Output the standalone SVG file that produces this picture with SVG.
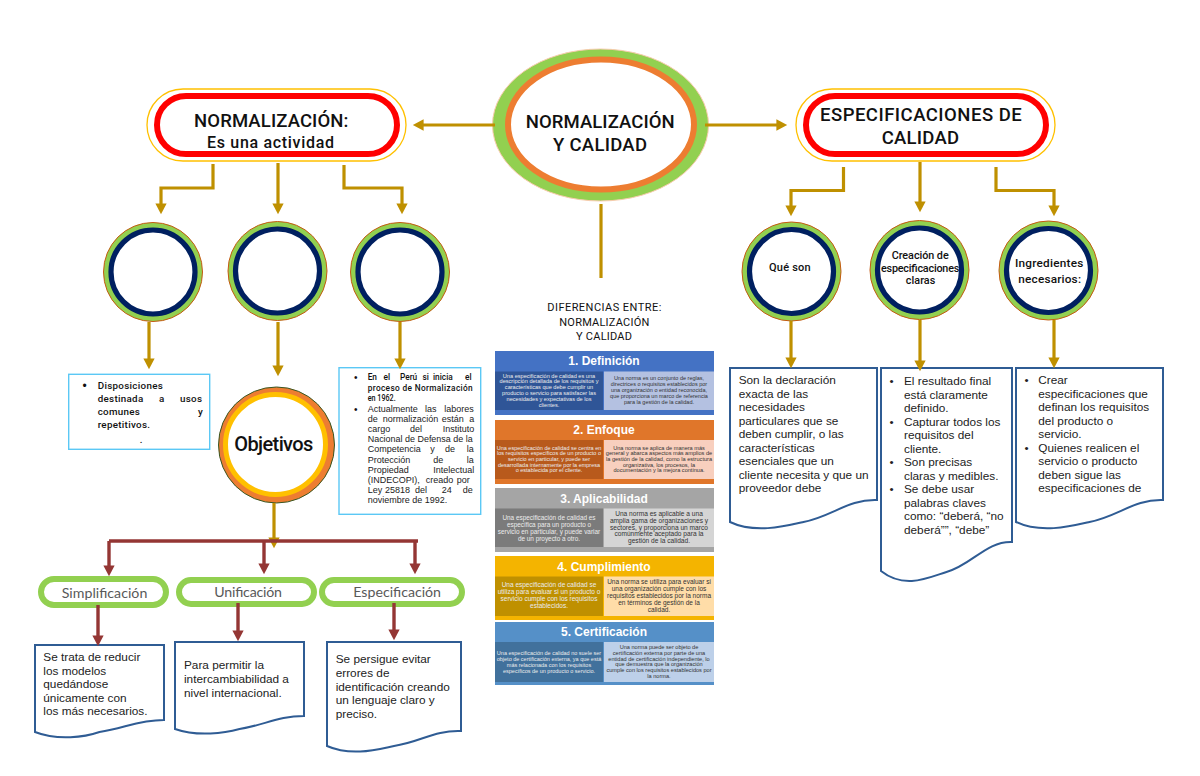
<svg xmlns="http://www.w3.org/2000/svg" width="1200" height="776" viewBox="0 0 1200 776">
<style>
.din{font-family:"Roboto","Liberation Sans",sans-serif;fill:#111}
.sans{font-family:"Liberation Sans",Arial,sans-serif;font-size:11.8px;fill:#222}
.lat{font-family:"Lato","Liberation Sans",sans-serif;font-size:14.2px;font-weight:400;fill:#595959}
.hd{font-family:"Liberation Sans",Arial,sans-serif;font-size:12px;font-weight:700;fill:#fff;text-anchor:middle}
.cl,.cr{font-family:"Liberation Sans",Arial,sans-serif;text-anchor:middle}
.cl{fill:#ececec}.cr{fill:#333}
.bul{font-family:"Liberation Sans",Arial,sans-serif;fill:#111}
.doc{fill:#fff;stroke:#2F5C94;stroke-width:2}
.box{fill:#fff;stroke:#5BC8F5;stroke-width:1.4}
.gold{fill:none;stroke:#BF9000;stroke-width:3.2;marker-end:url(#ag)}
.goldn{fill:none;stroke:#BF9000;stroke-width:3.2}
.red{fill:none;stroke:#943634;stroke-width:3.4;marker-end:url(#ar)}
.redn{fill:none;stroke:#943634;stroke-width:3.4}
.pill{fill:#fff;stroke:#92D050;stroke-width:6}
.py{fill:#fff;stroke:#FFC000;stroke-width:1.3}
.pr{fill:#fff;stroke:#FF0000;stroke-width:6}
.c1{fill:#92D050;stroke:#C55A11;stroke-width:1}
.c2{fill:#fff;stroke:#002060;stroke-width:5.2}
</style>
<defs>
<marker id="ag" markerUnits="userSpaceOnUse" markerWidth="12" markerHeight="12" viewBox="0 0 10 10" refX="3" refY="5" orient="auto"><path d="M0 0.3L9 5L0 9.7Z" fill="#BF9000"/></marker>
<marker id="ar" markerUnits="userSpaceOnUse" markerWidth="12" markerHeight="12" viewBox="0 0 10 10" refX="3" refY="5" orient="auto"><path d="M0 0.3L9 5L0 9.7Z" fill="#943634"/></marker>
</defs>
<rect width="1200" height="776" fill="#fff"/>

<g id="node-center">
<ellipse cx="600.5" cy="125" rx="108" ry="76" fill="#92D050" stroke="#F8CBAD" stroke-width="1"/>
<ellipse cx="601" cy="124.5" rx="93" ry="65" fill="#fff" stroke="#ED7D31" stroke-width="6"/>
<text class="din" x="525.7" y="127.7" font-size="18.500" font-weight="500" textLength="149">NORMALIZACIÓN</text>
<text class="din" x="553" y="151" font-size="18.500" font-weight="500" textLength="94">Y CALIDAD</text>
</g>
<g id="node-normalizacion">
<rect class="py" x="147" y="89" width="259" height="72" rx="36"/>
<rect class="pr" x="157" y="96" width="240" height="58" rx="29"/>
<text class="din" x="194" y="126.7" font-size="18.500" font-weight="500" textLength="154.500">NORMALIZACIÓN:</text>
<text class="din" x="207" y="147.7" font-size="16" font-weight="500" textLength="127">Es una actividad</text>
</g>
<g id="node-especificaciones">
<rect class="py" x="796" y="89" width="259" height="72" rx="36"/>
<rect class="pr" x="806" y="96" width="240" height="58" rx="29"/>
<text class="din" x="820" y="120.7" font-size="18.500" font-weight="500" textLength="201.700">ESPECIFICACIONES DE</text>
<text class="din" x="881.700" y="144.3" font-size="18.500" font-weight="500" textLength="77.300">CALIDAD</text>
</g>

<g id="node-circle-1"><circle class="c1" cx="153" cy="272" r="49.500"/><circle class="c2" cx="153" cy="272" r="42"/></g>
<g id="node-circle-2"><circle class="c1" cx="277.5" cy="271" r="49.500"/><circle class="c2" cx="277.5" cy="271" r="42"/></g>
<g id="node-circle-3"><circle class="c1" cx="400" cy="272" r="49.500"/><circle class="c2" cx="400" cy="272" r="42"/></g>
<g id="node-que-son"><circle class="c1" cx="791.5" cy="271.5" r="49.500"/><circle class="c2" cx="791.5" cy="271.5" r="42"/>
<text class="din" x="769" y="271" font-size="11" font-weight="500" textLength="41.700">Qué son</text></g>
<g id="node-creacion"><circle class="c1" cx="919.5" cy="270" r="49.500"/><circle class="c2" cx="919.5" cy="270" r="42"/>
<text class="din" x="891.700" y="258.7" font-size="10.800" font-weight="500" textLength="57">Creación de</text>
<text class="din" x="881" y="271.7" font-size="10.800" font-weight="500" textLength="78.300">especificaciones</text>
<text class="din" x="905.700" y="284.3" font-size="10.800" font-weight="500" textLength="29.600">claras</text></g>
<g id="node-ingredientes"><circle class="c1" cx="1048.5" cy="270.5" r="49.500"/><circle class="c2" cx="1048.5" cy="270.5" r="42"/>
<text class="din" x="1015" y="267" font-size="11.800" font-weight="500" textLength="68.300">Ingredientes</text>
<text class="din" x="1018.300" y="282.7" font-size="11.800" font-weight="500" textLength="62.700">necesarios:</text></g>

<g id="node-disposiciones">
<rect class="box" x="68.7" y="374.3" width="141" height="75"/>
<text class="bul" x="82.500" y="390" font-size="12">•</text>
<g class="din" font-size="9.800" font-weight="500" letter-spacing="0.3">
<text x="97.700" y="389">Disposiciones</text>
<text y="402"><tspan x="97.700">destinada</tspan><tspan x="159">a</tspan><tspan x="180">usos</tspan></text>
<text y="415"><tspan x="97.700">comunes</tspan><tspan x="198">y</tspan></text>
<text x="97.700" y="428">repetitivos.</text>
<text x="139.700" y="443">.</text>
</g></g>

<g id="node-peru">
<rect class="box" x="339" y="367.7" width="141.700" height="146.600"/>
<text class="bul" x="354" y="381" font-size="10">•</text>
<text class="bul" x="354" y="412.500" font-size="10">•</text>
<g class="din" font-size="8.300" font-weight="500">
<text y="380"><tspan x="367.700">En</tspan><tspan x="383.500">el</tspan><tspan x="400">Perú</tspan><tspan x="422.500">si</tspan><tspan x="433">inicia</tspan><tspan x="465">el</tspan></text>
<text x="367.700" y="390.500" textLength="105">proceso de Normalización</text>
<text x="367.700" y="401" textLength="28" lengthAdjust="spacingAndGlyphs">en 1962.</text>
</g>
<g class="sans" style="font-size:9px">
<text y="411.500"><tspan x="367.700">Actualmente</tspan><tspan x="425">las</tspan><tspan x="444.300">labores</tspan></text>
<text y="421.700"><tspan x="367.700">de</tspan><tspan x="382.700">normalización</tspan><tspan x="441.700">están</tspan><tspan x="469.300">a</tspan></text>
<text y="431.900"><tspan x="367.700">cargo</tspan><tspan x="410">del</tspan><tspan x="442.700">Instituto</tspan></text>
<text x="367.700" y="442.100" textLength="105" lengthAdjust="spacingAndGlyphs">Nacional de Defensa de la</text>
<text y="452.300"><tspan x="367.700">Competencia</tspan><tspan x="430.300">y</tspan><tspan x="445">de</tspan><tspan x="466.700">la</tspan></text>
<text y="462.500"><tspan x="367.700">Protección</tspan><tspan x="433.300">de</tspan><tspan x="466.700">la</tspan></text>
<text y="472.700"><tspan x="367.700">Propiedad</tspan><tspan x="433.300">Intelectual</tspan></text>
<text y="482.900"><tspan x="367.700">(INDECOPI),</tspan><tspan x="425.700">creado</tspan><tspan x="456.700">por</tspan></text>
<text y="493.100"><tspan x="367.700">Ley</tspan><tspan x="385">25818</tspan><tspan x="415">del</tspan><tspan x="441.700">24</tspan><tspan x="462.700">de</tspan></text>
<text x="367.700" y="503.300">noviembre de 1992.</text>
</g></g>

<g id="node-objetivos">
<circle cx="276.5" cy="445" r="58" fill="#ED7D31" stroke="#385723" stroke-width="1"/>
<circle cx="275.5" cy="444.5" r="50" fill="#fff" stroke="#FFC000" stroke-width="5"/>
<text class="din" x="234.300" y="450.700" font-size="20" font-weight="500" textLength="79">Objetivos</text>
</g>

<g id="node-simplificacion"><rect class="pill" x="41" y="579" width="125" height="26" rx="13"/><text class="lat" x="61.700" y="597.700" textLength="85.600">Simplificación</text></g>
<g id="node-unificacion"><rect class="pill" x="179" y="580" width="135" height="24" rx="12"/><text class="lat" x="214.300" y="596.700" textLength="67.700">Unificación</text></g>
<g id="node-especificacion"><rect class="pill" x="322" y="580" width="140" height="24" rx="12"/><text class="lat" x="353.300" y="596.700" textLength="87.700">Especificación</text></g>

<g id="node-doc-1">
<path class="doc" d="M35 645H164V720C138 720 125 728 99.500 732C85 737 58 741 35 732Z"/>
<g class="sans"><text x="43.300" y="661">Se trata de reducir</text><text x="43.300" y="674.600">los modelos</text><text x="43.300" y="688.200">quedándose</text><text x="43.300" y="701.700">únicamente con</text><text x="43.300" y="715.200">los más necesarios.</text></g>
</g>
<g id="node-doc-2">
<path class="doc" d="M175 642H304V716C278 716 265 725 239.500 729C225 733 198 737 175 729Z"/>
<g class="sans"><text x="184" y="669.300">Para permitir la</text><text x="184" y="683">intercambiabilidad a</text><text x="184" y="696.700">nivel internacional.</text></g>
</g>
<g id="node-doc-3">
<path class="doc" d="M327 642H461V731C434 730 421 742 394 746C379 749 352 757 327 746Z"/>
<g class="sans"><text x="335.700" y="663.300">Se persigue evitar</text><text x="335.700" y="677">errores de</text><text x="335.700" y="690.500">identificación creando</text><text x="335.700" y="704.200">un lenguaje claro y</text><text x="335.700" y="718">preciso.</text></g>
</g>
<g id="node-doc-a">
<path class="doc" d="M730 368H877V500C848 499 833 516 803.500 522C786 526 755 534 730 522Z"/>
<g class="sans"><text x="738.700" y="384">Son la declaración</text><text x="738.700" y="397.500">exacta de las</text><text x="738.700" y="411">necesidades</text><text x="738.700" y="424.500">particulares que se</text><text x="738.700" y="438">deben cumplir, o las</text><text x="738.700" y="451.500">características</text><text x="738.700" y="465">esenciales que un</text><text x="738.700" y="478.500">cliente necesita y que un</text><text x="738.700" y="492">proveedor debe</text></g>
</g>
<g id="node-doc-b">
<path class="doc" d="M881 368H1012V542C986 541 972 565 946.500 572C930 577 905 590 881 571Z"/>
<g class="sans"><text x="889.500" y="385.300">•</text><text x="904" y="385.300">El resultado final</text><text x="904" y="398.800">está claramente</text><text x="904" y="412.300">definido.</text><text x="889.500" y="425.800">•</text><text x="904" y="425.800">Capturar todos los</text><text x="904" y="439.300">requisitos del</text><text x="904" y="452.800">cliente.</text><text x="889.500" y="466.300">•</text><text x="904" y="466.300">Son precisas</text><text x="904" y="479.800">claras y medibles.</text><text x="889.500" y="493.300">•</text><text x="904" y="493.300">Se debe usar</text><text x="904" y="506.800">palabras claves</text><text x="904" y="520.300">como: “deberá, “no</text><text x="904" y="533.800">deberá””, “debe”</text></g>
</g>
<g id="node-doc-c">
<path class="doc" d="M1016 368H1163V500C1134 499 1119 516 1089.500 522C1072 526 1041 534 1016 522Z"/>
<g class="sans"><text x="1024.500" y="384">•</text><text x="1038.300" y="384">Crear</text><text x="1038.300" y="397.500">especificaciones que</text><text x="1038.300" y="411">definan los requisitos</text><text x="1038.300" y="424.500">del producto o</text><text x="1038.300" y="438">servicio.</text><text x="1024.500" y="451.500">•</text><text x="1038.300" y="451.500">Quienes realicen el</text><text x="1038.300" y="465">servicio o producto</text><text x="1038.300" y="478.500">deben sigue las</text><text x="1038.300" y="492">especificaciones de</text></g>
</g>

<g id="node-diferencias">
<text class="din" x="547.300" y="311.300" font-size="11" textLength="114">DIFERENCIAS ENTRE:</text>
<text class="din" x="559.300" y="325.700" font-size="11" textLength="90">NORMALIZACIÓN</text>
<text class="din" x="576" y="339.700" font-size="11" textLength="56">Y CALIDAD</text>
</g>

<g id="node-tabla-1">
<rect x="495" y="351" width="219" height="64" fill="#4472C4"/>
<rect x="495" y="371.500" width="108" height="38.500" fill="#2F5597"/><rect x="604" y="371.500" width="110" height="38.500" fill="#B4C1E1"/>
<text class="hd" x="604" y="365">1. Definición</text>
<g class="cl" font-size="5.600"><text x="549" y="377.500">Una especificación de calidad es una</text><text x="549" y="383.300">descripción detallada de los requisitos y</text><text x="549" y="389.100">características que debe cumplir un</text><text x="549" y="394.900">producto o servicio para satisfacer las</text><text x="549" y="400.700">necesidades y expectativas de los</text><text x="549" y="406.500">clientes.</text></g>
<g class="cr" font-size="5.500"><text x="659" y="380.300">Una norma es un conjunto de reglas,</text><text x="659" y="386.100">directrices o requisitos establecidos por</text><text x="659" y="391.900">una organización o entidad reconocida,</text><text x="659" y="397.700">que proporciona un marco de referencia</text><text x="659" y="403.500">para la gestión de la calidad.</text></g>
</g>
<g id="node-tabla-2">
<rect x="495" y="420" width="219" height="64" fill="#E0762A"/>
<rect x="495" y="440" width="108" height="39" fill="#B85A1C"/><rect x="604" y="440" width="110" height="39" fill="#F8CFBE"/>
<text class="hd" x="604" y="434">2. Enfoque</text>
<g class="cl" font-size="5.500"><text x="549" y="449.500">Una especificación de calidad se centra en</text><text x="549" y="455.200">los requisitos específicos de un producto o</text><text x="549" y="460.900">servicio en particular, y puede ser</text><text x="549" y="466.600">desarrollada internamente por la empresa</text><text x="549" y="472.300">o establecida por el cliente.</text></g>
<g class="cr" font-size="5.600"><text x="659" y="449.500">Una norma se aplica de manera más</text><text x="659" y="455.200">general y abarca aspectos más amplios de</text><text x="659" y="460.900">la gestión de la calidad, como la estructura</text><text x="659" y="466.600">organizativa, los procesos, la</text><text x="659" y="472.300">documentación y la mejora continua.</text></g>
</g>
<g id="node-tabla-3">
<rect x="495" y="488" width="219" height="64" fill="#A5A5A5"/>
<rect x="495" y="508.500" width="108" height="38.500" fill="#7B7B7B"/><rect x="604" y="508.500" width="110" height="38.500" fill="#D5D5D5"/>
<text class="hd" x="604" y="503">3. Aplicabilidad</text>
<g class="cl" font-size="6.400"><text x="549" y="520">Una especificación de calidad es</text><text x="549" y="526.900">específica para un producto o</text><text x="549" y="533.800">servicio en particular, y puede variar</text><text x="549" y="540.700">de un proyecto a otro.</text></g>
<g class="cr" font-size="6.600"><text x="659" y="516">Una norma es aplicable a una</text><text x="659" y="522.800">amplia gama de organizaciones y</text><text x="659" y="529.600">sectores, y proporciona un marco</text><text x="659" y="536.400">comúnmente aceptado para la</text><text x="659" y="543.200">gestión de la calidad.</text></g>
</g>
<g id="node-tabla-4">
<rect x="495" y="556" width="219" height="64" fill="#F4B400"/>
<rect x="495" y="576.500" width="108" height="39.500" fill="#BF9000"/><rect x="604" y="576.500" width="110" height="39.500" fill="#FFDDA8"/>
<text class="hd" x="604" y="571">4. Cumplimiento</text>
<g class="cl" font-size="6.500"><text x="549" y="587">Una especificación de calidad se</text><text x="549" y="594">utiliza para evaluar si un producto o</text><text x="549" y="601">servicio cumple con los requisitos</text><text x="549" y="608">establecidos.</text></g>
<g class="cr" font-size="6.500"><text x="659" y="584">Una norma se utiliza para evaluar si</text><text x="659" y="591">una organización cumple con los</text><text x="659" y="598">requisitos establecidos por la norma</text><text x="659" y="605">en términos de gestión de la</text><text x="659" y="612">calidad.</text></g>
</g>
<g id="node-tabla-5">
<rect x="495" y="622" width="219" height="63" fill="#5590C8"/>
<rect x="495" y="642" width="108" height="40" fill="#41719C"/><rect x="604" y="642" width="110" height="40" fill="#BDD0E9"/>
<text class="hd" x="604" y="636">5. Certificación</text>
<g class="cl" font-size="5.500"><text x="549" y="655">Una especificación de calidad no suele ser</text><text x="549" y="661">objeto de certificación externa, ya que está</text><text x="549" y="667">más relacionada con los requisitos</text><text x="549" y="673">específicos de un producto o servicio.</text></g>
<g class="cr" font-size="5.600"><text x="659" y="648.500">Una norma puede ser objeto de</text><text x="659" y="654.500">certificación externa por parte de una</text><text x="659" y="660.500">entidad de certificación independiente, lo</text><text x="659" y="666.400">que demuestra que la organización</text><text x="659" y="672.300">cumple con los requisitos establecidos por</text><text x="659" y="678.200">la norma.</text></g>
</g>

<g id="connectors">
<path class="gold" d="M495 125H420"/>
<path class="gold" d="M705 125H780"/>
<path class="goldn" d="M601 204V278"/>
<path class="gold" d="M213 164V188H161V207"/>
<path class="gold" d="M278 163V207"/>
<path class="gold" d="M344 165V188H402V207"/>
<path class="gold" d="M843.500 167V190.500H791V209"/>
<path class="gold" d="M920 162V205"/>
<path class="gold" d="M996 167V190.500H1054V209"/>
<path class="gold" d="M149 322V362"/>
<path class="gold" d="M278 322V369"/>
<path class="gold" d="M400 322V362"/>
<path class="gold" d="M791 321V361"/>
<path class="gold" d="M920 320V364"/>
<path class="gold" d="M1054 320V361"/>
<path class="gold" d="M274 503V541"/>
<path class="redn" d="M418 541H109"/>
<path class="red" d="M109 541V569"/>
<path class="red" d="M264 541V567"/>
<path class="red" d="M415 541V567"/>
<path class="red" d="M98 605V639"/>
<path class="red" d="M238 603V634"/>
<path class="red" d="M394 603V633"/>
</g>
</svg>
